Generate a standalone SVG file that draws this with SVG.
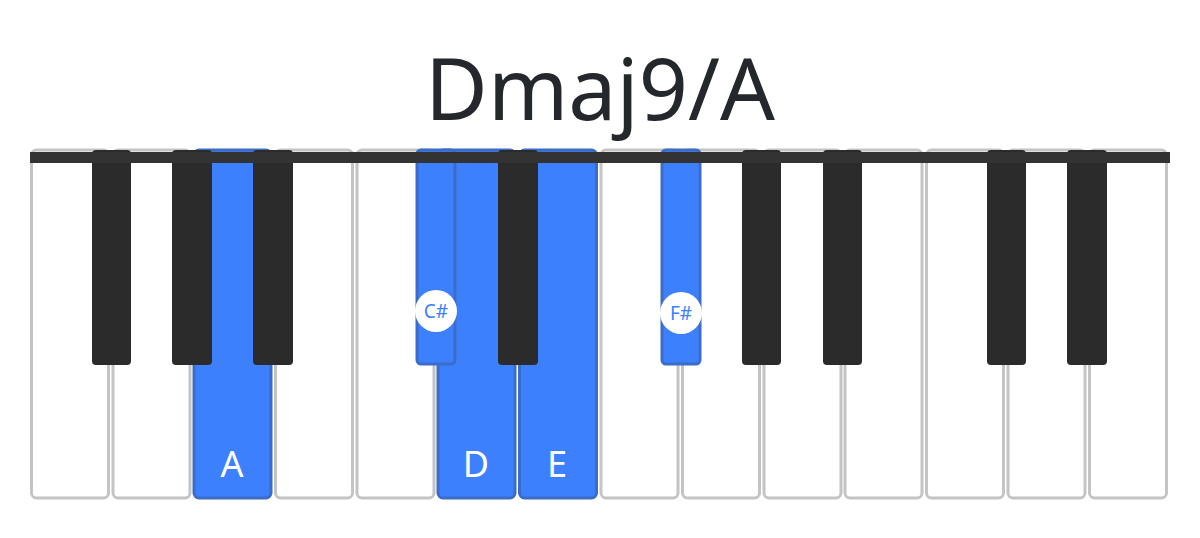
<svg xmlns="http://www.w3.org/2000/svg" width="1200" height="538" viewBox="0 0 1200 538">
<style>
.w{fill:#fff;stroke:#c4c4c4;stroke-width:3}
.wb{fill:#3d80fe;stroke:#3a6cc8;stroke-width:3}
.b{fill:#2b2b2b}
.bb{fill:#3d80fe;stroke:#3a6cc8;stroke-width:3}
.t{font-family:"Noto Sans","Open Sans",sans-serif}
.wl{font-size:36px;fill:#fff;text-anchor:middle}
.bl{font-size:19px;fill:#3d80fe;text-anchor:middle}
</style>
<rect width="1200" height="538" fill="#fff"/>
<text class="t" x="600" y="120" font-size="86" fill="#24272b" text-anchor="middle">Dmaj9/A</text>
<g id="white-keys">
<rect id="wF1" class="w" x="31.5" y="150" width="77" height="348" rx="5"/>
<rect id="wG1" class="w" x="113" y="150" width="77" height="348" rx="5"/>
<rect id="wA1" class="wb" x="194" y="150" width="77" height="348" rx="5"/>
<rect id="wB1" class="w" x="275.5" y="150" width="77" height="348" rx="5"/>
<rect id="wC1" class="w" x="357" y="150" width="77" height="348" rx="5"/>
<rect id="wD1" class="wb" x="438" y="150" width="77" height="348" rx="5"/>
<rect id="wE1" class="wb" x="519.5" y="150" width="77" height="348" rx="5"/>
<rect id="wF2" class="w" x="601" y="150" width="77" height="348" rx="5"/>
<rect id="wG2" class="w" x="682.5" y="150" width="77" height="348" rx="5"/>
<rect id="wA2" class="w" x="764" y="150" width="77" height="348" rx="5"/>
<rect id="wB2" class="w" x="845" y="150" width="77" height="348" rx="5"/>
<rect id="wC2" class="w" x="926.5" y="150" width="77" height="348" rx="5"/>
<rect id="wD2" class="w" x="1008" y="150" width="77" height="348" rx="5"/>
<rect id="wE2" class="w" x="1089.5" y="150" width="77" height="348" rx="5"/>
</g>
<g id="black-keys">
<rect class="b" x="92" y="150" width="39" height="215" rx="4"/>
<rect class="b" x="172" y="150" width="40" height="215" rx="4"/>
<rect class="b" x="253" y="150" width="40" height="215" rx="4"/>
<rect class="bb" x="417" y="150" width="38" height="214" rx="4"/>
<rect class="b" x="498" y="150" width="40" height="215" rx="4"/>
<rect class="bb" x="662" y="150" width="38" height="214" rx="4"/>
<rect class="b" x="742" y="150" width="39" height="215" rx="4"/>
<rect class="b" x="823" y="150" width="39" height="215" rx="4"/>
<rect class="b" x="987" y="150" width="39" height="215" rx="4"/>
<rect class="b" x="1067" y="150" width="40" height="215" rx="4"/>
</g>
<rect id="top-bar" x="30" y="152" width="1140" height="11" fill="#333"/>
<g id="labels" class="t">
<text class="wl" x="232" y="477">A</text>
<text class="wl" x="476" y="477">D</text>
<text class="wl" x="557" y="477">E</text>
<circle cx="436" cy="311" r="21" fill="#fff"/>
<text class="bl" x="436" y="318">C#</text>
<circle cx="681" cy="313" r="21" fill="#fff"/>
<text class="bl" x="681" y="320">F#</text>
</g>
</svg>
